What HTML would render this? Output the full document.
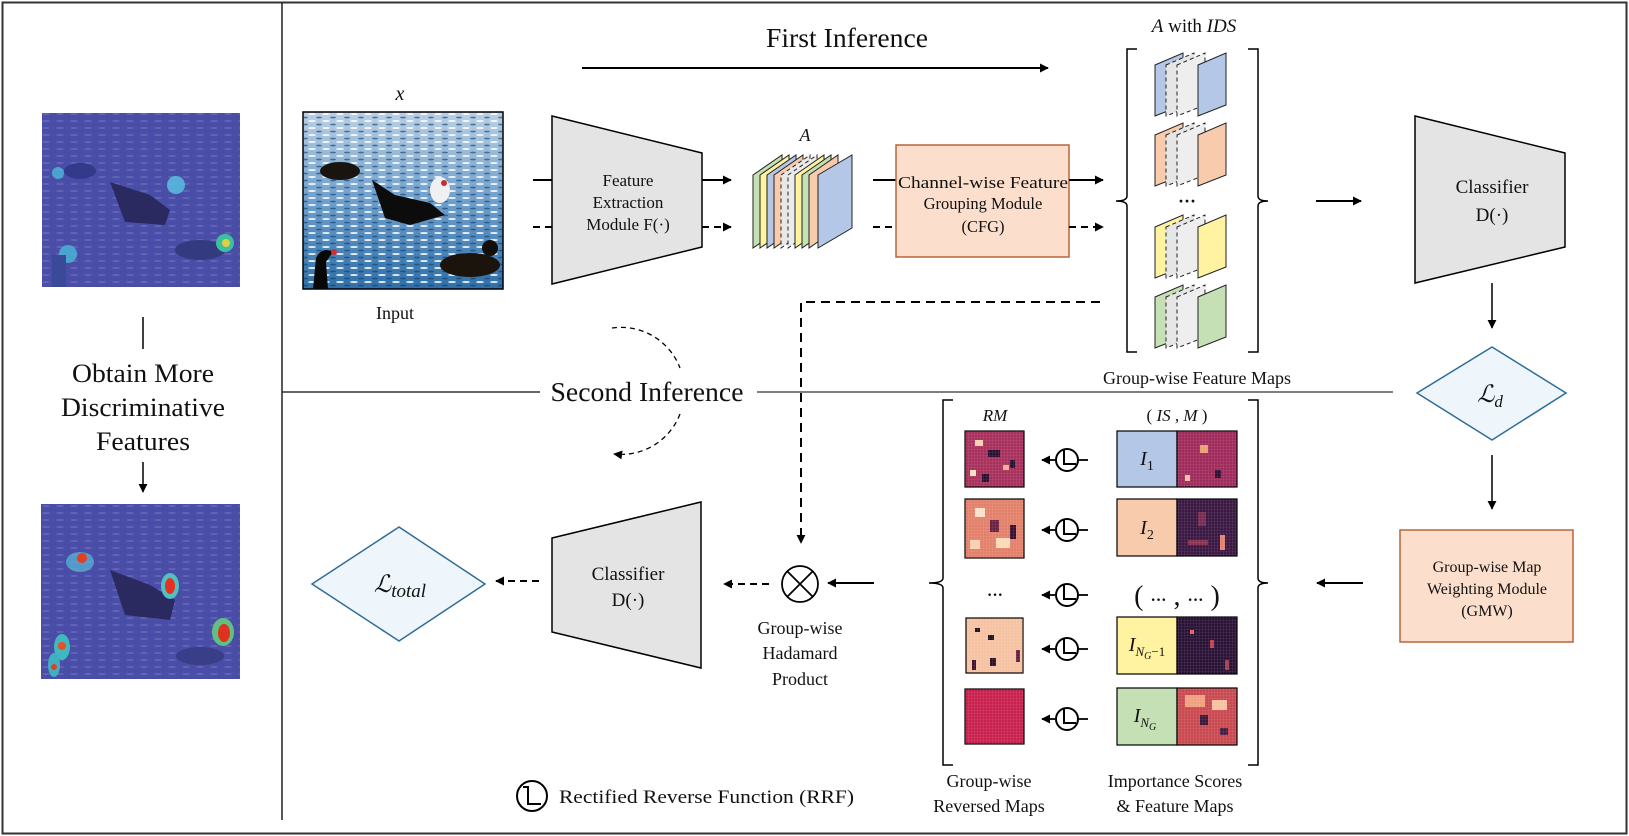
<!DOCTYPE html>
<html><head><meta charset="utf-8"><style>
html,body{margin:0;padding:0;background:#fff}
svg{display:block}
text{font-family:"Liberation Serif","DejaVu Serif",serif;fill:#111}
.it{font-style:italic}
</style></head><body>
<svg width="1629" height="836" viewBox="0 0 1629 836" xmlns="http://www.w3.org/2000/svg">
<defs>
<marker id="ah" viewBox="0 0 10 10" refX="9" refY="5" markerWidth="9" markerHeight="9" markerUnits="userSpaceOnUse" orient="auto"><path d="M0,0 L10,5 L0,10 z" fill="#000"/></marker>
<pattern id="water" width="14" height="7" patternUnits="userSpaceOnUse">
<ellipse cx="4" cy="2" rx="4" ry="1" fill="#fff" opacity="0.85"/>
<ellipse cx="11" cy="5.5" rx="3" ry="0.9" fill="#0e3a66" opacity="0.6"/>
</pattern>
<pattern id="grid" width="3" height="3" patternUnits="userSpaceOnUse"><path d="M3,0V3H0" fill="none" stroke="#fff" stroke-opacity="0.25" stroke-width="0.6"/></pattern>
<linearGradient id="wg" x1="0" y1="0" x2="0" y2="1"><stop offset="0" stop-color="#b9d0e4"/><stop offset="0.5" stop-color="#6f9fcc"/><stop offset="1" stop-color="#2f6fa8"/></linearGradient>
<g id="rrf"><circle cx="0" cy="0" r="11" fill="#fff" stroke="#000" stroke-width="2"/><path d="M-3,-11 V4 H9" fill="none" stroke="#000" stroke-width="2"/></g>
</defs>

<rect x="2.5" y="2.5" width="1624" height="831" fill="#fff" stroke="#333" stroke-width="2"/>
<line x1="282" y1="3" x2="282" y2="820" stroke="#222" stroke-width="1.5"/>

<!-- left panel heatmaps -->
<rect x="42" y="113" width="198" height="174" fill="#4a4ea8"/>
<rect x="42" y="113" width="198" height="174" fill="url(#water)" opacity="0.15"/>
<ellipse cx="80" cy="171" rx="16" ry="8" fill="#333a8a"/>
<circle cx="58" cy="173" r="6" fill="#4bb8d8" opacity="0.8"/>
<path d="M110,182 L150,195 L170,210 L165,225 L125,222 Z" fill="#2a2a60"/>
<circle cx="176" cy="185" r="9" fill="#58c0e0" opacity="0.85"/>
<ellipse cx="200" cy="250" rx="25" ry="10" fill="#343a80"/>
<circle cx="225" cy="243" r="9" fill="#3cc0a0"/><circle cx="226" cy="243" r="4" fill="#e0d040"/>
<circle cx="68" cy="254" r="9" fill="#4ab8d8" opacity="0.8"/>
<rect x="52" y="255" width="14" height="32" fill="#3a4a98"/>

<line x1="143" y1="317" x2="143" y2="349" stroke="#000" stroke-width="1.5"/>
<text x="143" y="382" font-size="26" text-anchor="middle" textLength="142" lengthAdjust="spacingAndGlyphs">Obtain More</text>
<text x="143" y="416" font-size="26" text-anchor="middle" textLength="164" lengthAdjust="spacingAndGlyphs">Discriminative</text>
<text x="143" y="450" font-size="26" text-anchor="middle" textLength="94" lengthAdjust="spacingAndGlyphs">Features</text>
<line x1="143" y1="462" x2="143" y2="492" stroke="#000" stroke-width="1.5" marker-end="url(#ah)"/>

<rect x="41" y="504" width="199" height="175" fill="#4a4ea8"/>
<rect x="41" y="504" width="199" height="175" fill="url(#water)" opacity="0.15"/>
<path d="M110,570 L150,585 L175,600 L170,620 L125,615 Z" fill="#2a2a60"/>
<ellipse cx="80" cy="562" rx="14" ry="10" fill="#5ab8d8" opacity="0.7"/><circle cx="82" cy="558" r="5" fill="#e04020"/>
<ellipse cx="170" cy="586" rx="9" ry="13" fill="#50c0c0"/><ellipse cx="170" cy="586" rx="5" ry="8" fill="#e83020"/>
<ellipse cx="223" cy="632" rx="11" ry="14" fill="#60c080"/><ellipse cx="224" cy="633" rx="6" ry="9" fill="#e03020"/>
<ellipse cx="62" cy="647" rx="8" ry="13" fill="#40b8c0"/><circle cx="62" cy="646" r="4" fill="#e85020"/>
<ellipse cx="54" cy="665" rx="6" ry="12" fill="#40b0c0"/><circle cx="54" cy="667" r="3" fill="#e04020"/>
<ellipse cx="200" cy="656" rx="24" ry="9" fill="#3a3e88"/>

<!-- top: first inference -->
<text x="847" y="47" font-size="27" text-anchor="middle" textLength="162" lengthAdjust="spacingAndGlyphs">First Inference</text>
<line x1="582" y1="68" x2="1048" y2="68" stroke="#000" stroke-width="2" marker-end="url(#ah)"/>

<text x="400" y="100" font-size="20" class="it" text-anchor="middle">x</text>
<rect x="303" y="112" width="200" height="177" fill="url(#wg)" stroke="#000" stroke-width="1.5"/>
<rect x="304" y="113" width="198" height="175" fill="url(#water)"/>
<ellipse cx="340" cy="171" rx="20" ry="9" fill="#1a1410"/>
<path d="M372,180 L395,195 L430,203 L445,215 L410,225 L385,218 Z" fill="#0c0c0c"/>
<ellipse cx="440" cy="190" rx="10" ry="13" fill="#f0f0f0"/><circle cx="444" cy="183" r="3" fill="#c03030"/>
<ellipse cx="470" cy="265" rx="30" ry="12" fill="#1a140c"/><circle cx="490" cy="248" r="8" fill="#120e08"/>
<path d="M313,289 L316,258 Q322,246 333,252 L326,262 L328,289 Z" fill="#080808"/>
<circle cx="334" cy="252" r="3" fill="#d03030"/>
<text x="395" y="319" font-size="18" text-anchor="middle">Input</text>

<line x1="533" y1="180" x2="552" y2="180" stroke="#000" stroke-width="2"/>
<line x1="533" y1="227" x2="552" y2="227" stroke="#000" stroke-width="2" stroke-dasharray="7,5"/>
<polygon points="552,116 702,153 702,247 552,284" fill="#e4e4e4" stroke="#000" stroke-width="1.5"/>
<text x="628" y="186" font-size="17" text-anchor="middle">Feature</text>
<text x="628" y="208" font-size="17" text-anchor="middle">Extraction</text>
<text x="628" y="230" font-size="17" text-anchor="middle">Module F(·)</text>
<line x1="702" y1="180" x2="731" y2="180" stroke="#000" stroke-width="2" marker-end="url(#ah)"/>
<line x1="702" y1="227" x2="731" y2="227" stroke="#000" stroke-width="2" stroke-dasharray="7,5" marker-end="url(#ah)"/>

<!-- stack A -->
<text x="805" y="141" font-size="18" class="it" text-anchor="middle">A</text>
<g stroke="#222" stroke-width="1">
<polygon points="753,175 782,155 782,228 753,248" fill="#c5e0b4"/>
<polygon points="760,175 789,155 789,228 760,248" fill="#fff2a0"/>
<polygon points="767,175 796,155 796,228 767,248" fill="#b4c7e7"/>
<polygon points="774,175 803,155 803,228 774,248" fill="#f8cbad"/>
<polygon points="781,175 810,155 810,228 781,248" fill="#e8e8e8" stroke-dasharray="4,3"/>
<polygon points="788,175 817,155 817,228 788,248" fill="#ececec" stroke-dasharray="4,3"/>
<polygon points="795,175 824,155 824,228 795,248" fill="#fff2a0"/>
<polygon points="802,175 831,155 831,228 802,248" fill="#c5e0b4"/>
<polygon points="809,175 838,155 838,228 809,248" fill="#f8cbad"/>
<polygon points="818,175 852,155 852,228 818,248" fill="#b4c7e7"/>
</g>

<line x1="873" y1="180" x2="896" y2="180" stroke="#000" stroke-width="2"/>
<line x1="873" y1="227" x2="896" y2="227" stroke="#000" stroke-width="2" stroke-dasharray="7,5"/>
<rect x="896" y="145" width="173" height="112" fill="#fbdfcc" stroke="#b5653a" stroke-width="1.5"/>
<text x="983" y="188" font-size="16.5" text-anchor="middle" textLength="170" lengthAdjust="spacingAndGlyphs">Channel-wise Feature</text>
<text x="983" y="209" font-size="16.5" text-anchor="middle">Grouping Module</text>
<text x="983" y="232" font-size="16.5" text-anchor="middle">(CFG)</text>
<line x1="1069" y1="180" x2="1103" y2="180" stroke="#000" stroke-width="2" marker-end="url(#ah)"/>
<line x1="1069" y1="227" x2="1103" y2="227" stroke="#000" stroke-width="2" stroke-dasharray="7,5" marker-end="url(#ah)"/>

<!-- A with IDS -->
<text x="1194" y="32" font-size="19" text-anchor="middle"><tspan class="it">A</tspan> with <tspan class="it">IDS</tspan></text>
<path d="M1137,49 H1127 V196 Q1127,201 1116,201 Q1127,201 1127,206 V352 H1137" fill="none" stroke="#000" stroke-width="1.5"/>
<path d="M1248,49 H1258 V196 Q1258,201 1268,201 Q1258,201 1258,206 V352 H1248" fill="none" stroke="#000" stroke-width="1.5"/>
<g stroke="#222" stroke-width="1">
<g transform="translate(0,53)">
<polygon points="1155,12 1183,0 1183,52 1155,63" fill="#b4c7e7"/>
<polygon points="1166,12 1194,0 1194,52 1166,63" fill="#e6e6e6" stroke-dasharray="4,3"/>
<polygon points="1177,12 1205,0 1205,52 1177,63" fill="#eeeeee" stroke-dasharray="4,3"/>
<polygon points="1198,12 1226,0 1226,52 1198,63" fill="#b4c7e7"/>
</g>
<g transform="translate(0,123)">
<polygon points="1155,12 1183,0 1183,52 1155,63" fill="#f8cbad"/>
<polygon points="1166,12 1194,0 1194,52 1166,63" fill="#e6e6e6" stroke-dasharray="4,3"/>
<polygon points="1177,12 1205,0 1205,52 1177,63" fill="#eeeeee" stroke-dasharray="4,3"/>
<polygon points="1198,12 1226,0 1226,52 1198,63" fill="#f8cbad"/>
</g>
<g transform="translate(0,215)">
<polygon points="1155,12 1183,0 1183,52 1155,63" fill="#fff2a0"/>
<polygon points="1166,12 1194,0 1194,52 1166,63" fill="#e6e6e6" stroke-dasharray="4,3"/>
<polygon points="1177,12 1205,0 1205,52 1177,63" fill="#eeeeee" stroke-dasharray="4,3"/>
<polygon points="1198,12 1226,0 1226,52 1198,63" fill="#fff2a0"/>
</g>
<g transform="translate(0,285)">
<polygon points="1155,12 1183,0 1183,52 1155,63" fill="#c5e0b4"/>
<polygon points="1166,12 1194,0 1194,52 1166,63" fill="#e6e6e6" stroke-dasharray="4,3"/>
<polygon points="1177,12 1205,0 1205,52 1177,63" fill="#eeeeee" stroke-dasharray="4,3"/>
<polygon points="1198,12 1226,0 1226,52 1198,63" fill="#c5e0b4"/>
</g>
</g>
<text x="1187" y="207" font-size="18" font-weight="bold" text-anchor="middle">···</text>
<text x="1197" y="384" font-size="18" text-anchor="middle">Group-wise Feature Maps</text>

<line x1="1316" y1="201" x2="1361" y2="201" stroke="#000" stroke-width="2" marker-end="url(#ah)"/>
<polygon points="1415,116 1565,153 1565,247 1415,283" fill="#e4e4e4" stroke="#000" stroke-width="1.5"/>
<text x="1492" y="193" font-size="19" text-anchor="middle">Classifier</text>
<text x="1492" y="221" font-size="19" text-anchor="middle">D(·)</text>
<line x1="1492" y1="283" x2="1492" y2="328" stroke="#000" stroke-width="1.5" marker-end="url(#ah)"/>
<polygon points="1492,347 1566,393 1492,440 1417,393" fill="#eef6fc" stroke="#2f6d98" stroke-width="1.5"/>
<text x="1490" y="402" font-size="24" text-anchor="middle"><tspan font-family="DejaVu Serif" font-style="italic">ℒ</tspan><tspan class="it" font-size="17" dy="5">d</tspan></text>
<line x1="1492" y1="455" x2="1492" y2="509" stroke="#000" stroke-width="1.5" marker-end="url(#ah)"/>
<rect x="1400" y="530" width="173" height="112" fill="#fbdfcc" stroke="#b5653a" stroke-width="1.5"/>
<text x="1487" y="572" font-size="16" text-anchor="middle">Group-wise Map</text>
<text x="1487" y="594" font-size="16" text-anchor="middle">Weighting Module</text>
<text x="1487" y="616" font-size="16" text-anchor="middle">(GMW)</text>
<line x1="1363" y1="583" x2="1317" y2="583" stroke="#000" stroke-width="2" marker-end="url(#ah)"/>

<!-- divider & second inference -->
<line x1="282" y1="392" x2="540" y2="392" stroke="#333" stroke-width="1.5"/>
<line x1="757" y1="392" x2="1393" y2="392" stroke="#555" stroke-width="1.5"/>
<text x="647" y="401" font-size="27" text-anchor="middle" textLength="193" lengthAdjust="spacingAndGlyphs">Second Inference</text>
<path d="M612,328 A63,63 0 0 1 680,368" fill="none" stroke="#000" stroke-width="1.3" stroke-dasharray="5,4"/>
<path d="M680,414 A63,63 0 0 1 614,454" fill="none" stroke="#000" stroke-width="1.3" stroke-dasharray="5,4" marker-end="url(#ah)"/>

<path d="M1100,302 H801 V543" fill="none" stroke="#000" stroke-width="2" stroke-dasharray="9,6" marker-end="url(#ah)"/>

<!-- bottom pipeline -->
<circle cx="800" cy="584" r="18" fill="#fff" stroke="#000" stroke-width="1.8"/>
<line x1="787" y1="571" x2="813" y2="597" stroke="#000" stroke-width="1.8"/>
<line x1="813" y1="571" x2="787" y2="597" stroke="#000" stroke-width="1.8"/>
<line x1="874" y1="583" x2="828" y2="583" stroke="#000" stroke-width="2" marker-end="url(#ah)"/>
<text x="800" y="634" font-size="18" text-anchor="middle">Group-wise</text>
<text x="800" y="659" font-size="18" text-anchor="middle">Hadamard</text>
<text x="800" y="685" font-size="18" text-anchor="middle">Product</text>
<line x1="769" y1="584" x2="724" y2="584" stroke="#000" stroke-width="2" stroke-dasharray="7,5" marker-end="url(#ah)"/>
<polygon points="552,538 701,502 701,668 552,632" fill="#e4e4e4" stroke="#000" stroke-width="1.5"/>
<text x="628" y="580" font-size="19" text-anchor="middle">Classifier</text>
<text x="628" y="606" font-size="19" text-anchor="middle">D(·)</text>
<line x1="539" y1="581" x2="496" y2="581" stroke="#000" stroke-width="2" stroke-dasharray="7,5" marker-end="url(#ah)"/>
<polygon points="399,527 485,584 399,641 312,584" fill="#eef6fc" stroke="#2f6d98" stroke-width="1.5"/>
<text x="400" y="592" font-size="24" text-anchor="middle"><tspan font-family="DejaVu Serif" font-style="italic">ℒ</tspan><tspan class="it" font-size="19" dy="5">total</tspan></text>

<!-- legend -->
<circle cx="532" cy="796" r="15" fill="#fff" stroke="#000" stroke-width="2"/>
<path d="M523,787 H528 V804 H541" fill="none" stroke="#000" stroke-width="2"/>
<text x="559" y="803" font-size="19" textLength="295" lengthAdjust="spacingAndGlyphs">Rectified Reverse Function (RRF)</text>

<!-- second braces -->
<path d="M953,400 H943 V578 Q943,583 929,583 Q943,583 943,588 V765 H953" fill="none" stroke="#000" stroke-width="1.5"/>
<path d="M1248,400 H1258 V578 Q1258,583 1268,583 Q1258,583 1258,588 V765 H1248" fill="none" stroke="#000" stroke-width="1.5"/>
<text x="995" y="421" font-size="17" class="it" text-anchor="middle">RM</text>
<text x="1177" y="421" font-size="17" text-anchor="middle">( <tspan class="it">IS</tspan> , <tspan class="it">M</tspan> )</text>

<!-- RM maps -->
<g stroke="#000" stroke-width="1.2">
<rect x="965" y="431" width="59" height="56" fill="#a8305c"/>
<rect x="965" y="499" width="59" height="59" fill="#e2806a"/>
<rect x="966" y="618" width="57" height="55" fill="#f6c2a2"/>
<rect x="965" y="689" width="59" height="55" fill="#c8214e"/>
</g>
<g>
<rect x="975" y="440" width="8" height="6" fill="#f5d0b0"/><rect x="988" y="450" width="12" height="7" fill="#2a1030"/><rect x="970" y="470" width="6" height="6" fill="#f8e0c0"/><rect x="982" y="474" width="7" height="8" fill="#2a1030"/><rect x="1003" y="465" width="6" height="5" fill="#f0b090"/><rect x="1010" y="460" width="5" height="8" fill="#2a1030"/>
<rect x="975" y="508" width="10" height="9" fill="#fbe0c8"/><rect x="990" y="520" width="9" height="12" fill="#6a2040"/><rect x="996" y="538" width="14" height="10" fill="#fbd8b8"/><rect x="1010" y="525" width="6" height="14" fill="#3a1030"/><rect x="970" y="540" width="10" height="9" fill="#f8d0b0"/>
<rect x="975" y="628" width="5" height="4" fill="#201028"/><rect x="988" y="635" width="6" height="5" fill="#201028"/><rect x="972" y="660" width="4" height="10" fill="#401030"/><rect x="990" y="658" width="6" height="8" fill="#301028"/><rect x="1016" y="650" width="4" height="12" fill="#6a2040"/>
<rect x="1122" y="436" width="8" height="6" fill="#201028"/><rect x="1135" y="444" width="10" height="8" fill="#e8a080"/>
</g>
<g stroke="none" fill="#000"><text x="995" y="600" font-size="16" font-weight="bold" text-anchor="middle">···</text></g>

<!-- IS boxes & maps -->
<g stroke="#000" stroke-width="1.2">
<rect x="1117" y="431" width="60" height="56" fill="#b4c7e7"/><rect x="1177" y="431" width="60" height="56" fill="#a02a5c"/>
<rect x="1117" y="499" width="60" height="57" fill="#f8cbad"/><rect x="1177" y="499" width="60" height="57" fill="#3a1842"/>
<rect x="1117" y="617" width="60" height="57" fill="#fff2a0"/><rect x="1177" y="617" width="60" height="57" fill="#2a1236"/>
<rect x="1117" y="688" width="60" height="57" fill="#c5e0b4"/><rect x="1177" y="688" width="60" height="57" fill="#c84a50"/>
</g>
<rect x="1200" y="445" width="8" height="8" fill="#e8a070"/><rect x="1215" y="470" width="6" height="8" fill="#301030"/><rect x="1185" y="475" width="5" height="6" fill="#f0c0a0"/>
<rect x="1198" y="512" width="8" height="14" fill="#7a2a50"/><rect x="1220" y="535" width="5" height="15" fill="#e08070"/><rect x="1188" y="540" width="20" height="5" fill="#8a3050"/>
<rect x="1190" y="630" width="4" height="4" fill="#e06060"/><rect x="1210" y="640" width="4" height="8" fill="#c04050"/><rect x="1225" y="660" width="4" height="10" fill="#a04050"/>
<rect x="1185" y="695" width="20" height="12" fill="#f0a080"/><rect x="1200" y="715" width="8" height="10" fill="#3a1838"/><rect x="1220" y="728" width="8" height="7" fill="#4a1a40"/><rect x="1212" y="700" width="15" height="10" fill="#f8c0a0"/>
<g>
<rect x="965" y="431" width="59" height="56" fill="url(#grid)"/><rect x="965" y="499" width="59" height="59" fill="url(#grid)"/><rect x="966" y="618" width="57" height="55" fill="url(#grid)"/><rect x="965" y="689" width="59" height="55" fill="url(#grid)"/>
<rect x="1177" y="431" width="60" height="56" fill="url(#grid)"/><rect x="1177" y="499" width="60" height="57" fill="url(#grid)"/><rect x="1177" y="617" width="60" height="57" fill="url(#grid)"/><rect x="1177" y="688" width="60" height="57" fill="url(#grid)"/>
</g>
<text x="1147" y="465" font-size="20" class="it" text-anchor="middle">I<tspan font-size="14" dy="5" font-style="normal">1</tspan></text>
<text x="1147" y="534" font-size="20" class="it" text-anchor="middle">I<tspan font-size="14" dy="5" font-style="normal">2</tspan></text>
<text x="1147" y="651" font-size="20" class="it" text-anchor="middle">I<tspan font-size="13" dy="5">N<tspan font-size="10" dy="3">G</tspan><tspan font-style="normal" dy="-3">−1</tspan></tspan></text>
<text x="1145" y="722" font-size="20" class="it" text-anchor="middle">I<tspan font-size="13" dy="5">N<tspan font-size="10" dy="3">G</tspan></tspan></text>
<text x="1177" y="605" font-size="28" text-anchor="middle">(  <tspan font-size="16" font-weight="bold">···</tspan> , <tspan font-size="16" font-weight="bold">···</tspan>  )</text>

<!-- RRF symbols -->
<g stroke="#000" stroke-width="1.8">
<line x1="1078" y1="460" x2="1088" y2="460"/><line x1="1055" y1="460" x2="1042" y2="460" marker-end="url(#ah)"/>
<line x1="1078" y1="530" x2="1088" y2="530"/><line x1="1055" y1="530" x2="1042" y2="530" marker-end="url(#ah)"/>
<line x1="1078" y1="595" x2="1088" y2="595"/><line x1="1055" y1="595" x2="1042" y2="595" marker-end="url(#ah)"/>
<line x1="1078" y1="649" x2="1088" y2="649"/><line x1="1055" y1="649" x2="1042" y2="649" marker-end="url(#ah)"/>
<line x1="1078" y1="719" x2="1088" y2="719"/><line x1="1055" y1="719" x2="1042" y2="719" marker-end="url(#ah)"/>
</g>
<use href="#rrf" x="1067" y="460"/><use href="#rrf" x="1067" y="530"/><use href="#rrf" x="1067" y="595"/><use href="#rrf" x="1067" y="649"/><use href="#rrf" x="1067" y="719"/>

<text x="989" y="787" font-size="18" text-anchor="middle">Group-wise</text>
<text x="989" y="812" font-size="18" text-anchor="middle">Reversed Maps</text>
<text x="1175" y="787" font-size="18" text-anchor="middle">Importance Scores</text>
<text x="1175" y="812" font-size="18" text-anchor="middle">&amp; Feature Maps</text>
</svg>
</body></html>
